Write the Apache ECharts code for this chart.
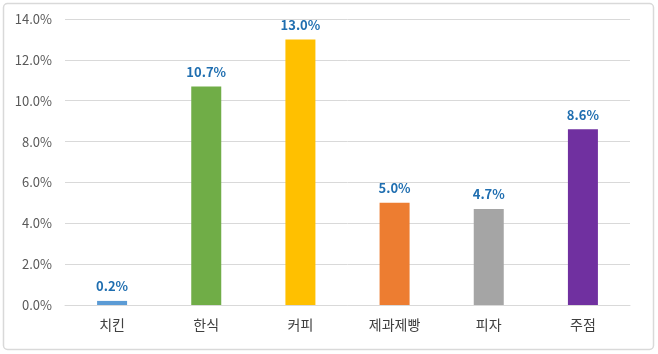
<!DOCTYPE html>
<html><head><meta charset="utf-8">
<script src="https://cdn.jsdelivr.net/npm/echarts@6/dist/echarts.min.js"></script>
<style>html,body{margin:0;padding:0;background:#fff}#c{width:658px;height:354px}</style>
</head><body><div id="c"></div>
<script>
const categories = ['치킨','한식','커피','제과제빵','피자','주점'];
const values = [0.2, 10.7, 13.0, 5.0, 4.7, 8.6];
const colors = ['#5B9BD5','#70AD47','#FFC000','#ED7D31','#A5A5A5','#7030A0'];
const yTicks = {min:0, max:14, interval:2};

const chart = echarts.init(document.getElementById('c'));
chart.setOption({
  animation:false,
  textStyle:{fontFamily:'"Noto Sans CJK KR", "Noto Sans", sans-serif'},
  graphic:[{type:'rect', shape:{x:3.5,y:3.5,width:650,height:346,r:4}, style:{fill:'none', stroke:'#d9d9d9', lineWidth:1.5}, silent:true}],
  grid:{left:65, right:28, top:19, bottom:49},
  xAxis:{type:'category', data:categories,
    axisLine:{lineStyle:{color:'#d9d9d9'}}, axisTick:{show:false},
    axisLabel:{color:'#404040', fontSize:14, margin:13}},
  yAxis:{type:'value', min:yTicks.min, max:yTicks.max, interval:yTicks.interval,
    axisLine:{show:false}, axisTick:{show:false},
    splitLine:{lineStyle:{color:'#d9d9d9'}},
    axisLabel:{color:'#595959', fontSize:13, margin:13, formatter:v=>v.toFixed(1)+'%'}},
  series:[{type:'bar', barWidth:30,
    data: values.map((v,i)=>({value:v, itemStyle:{color:colors[i]}})),
    label:{show:true, position:'top', distance:8, color:'#1F6EB0', fontWeight:'bold', fontSize:13,
      formatter:p=>p.value.toFixed(1)+'%'}}]
});
</script></body></html>
